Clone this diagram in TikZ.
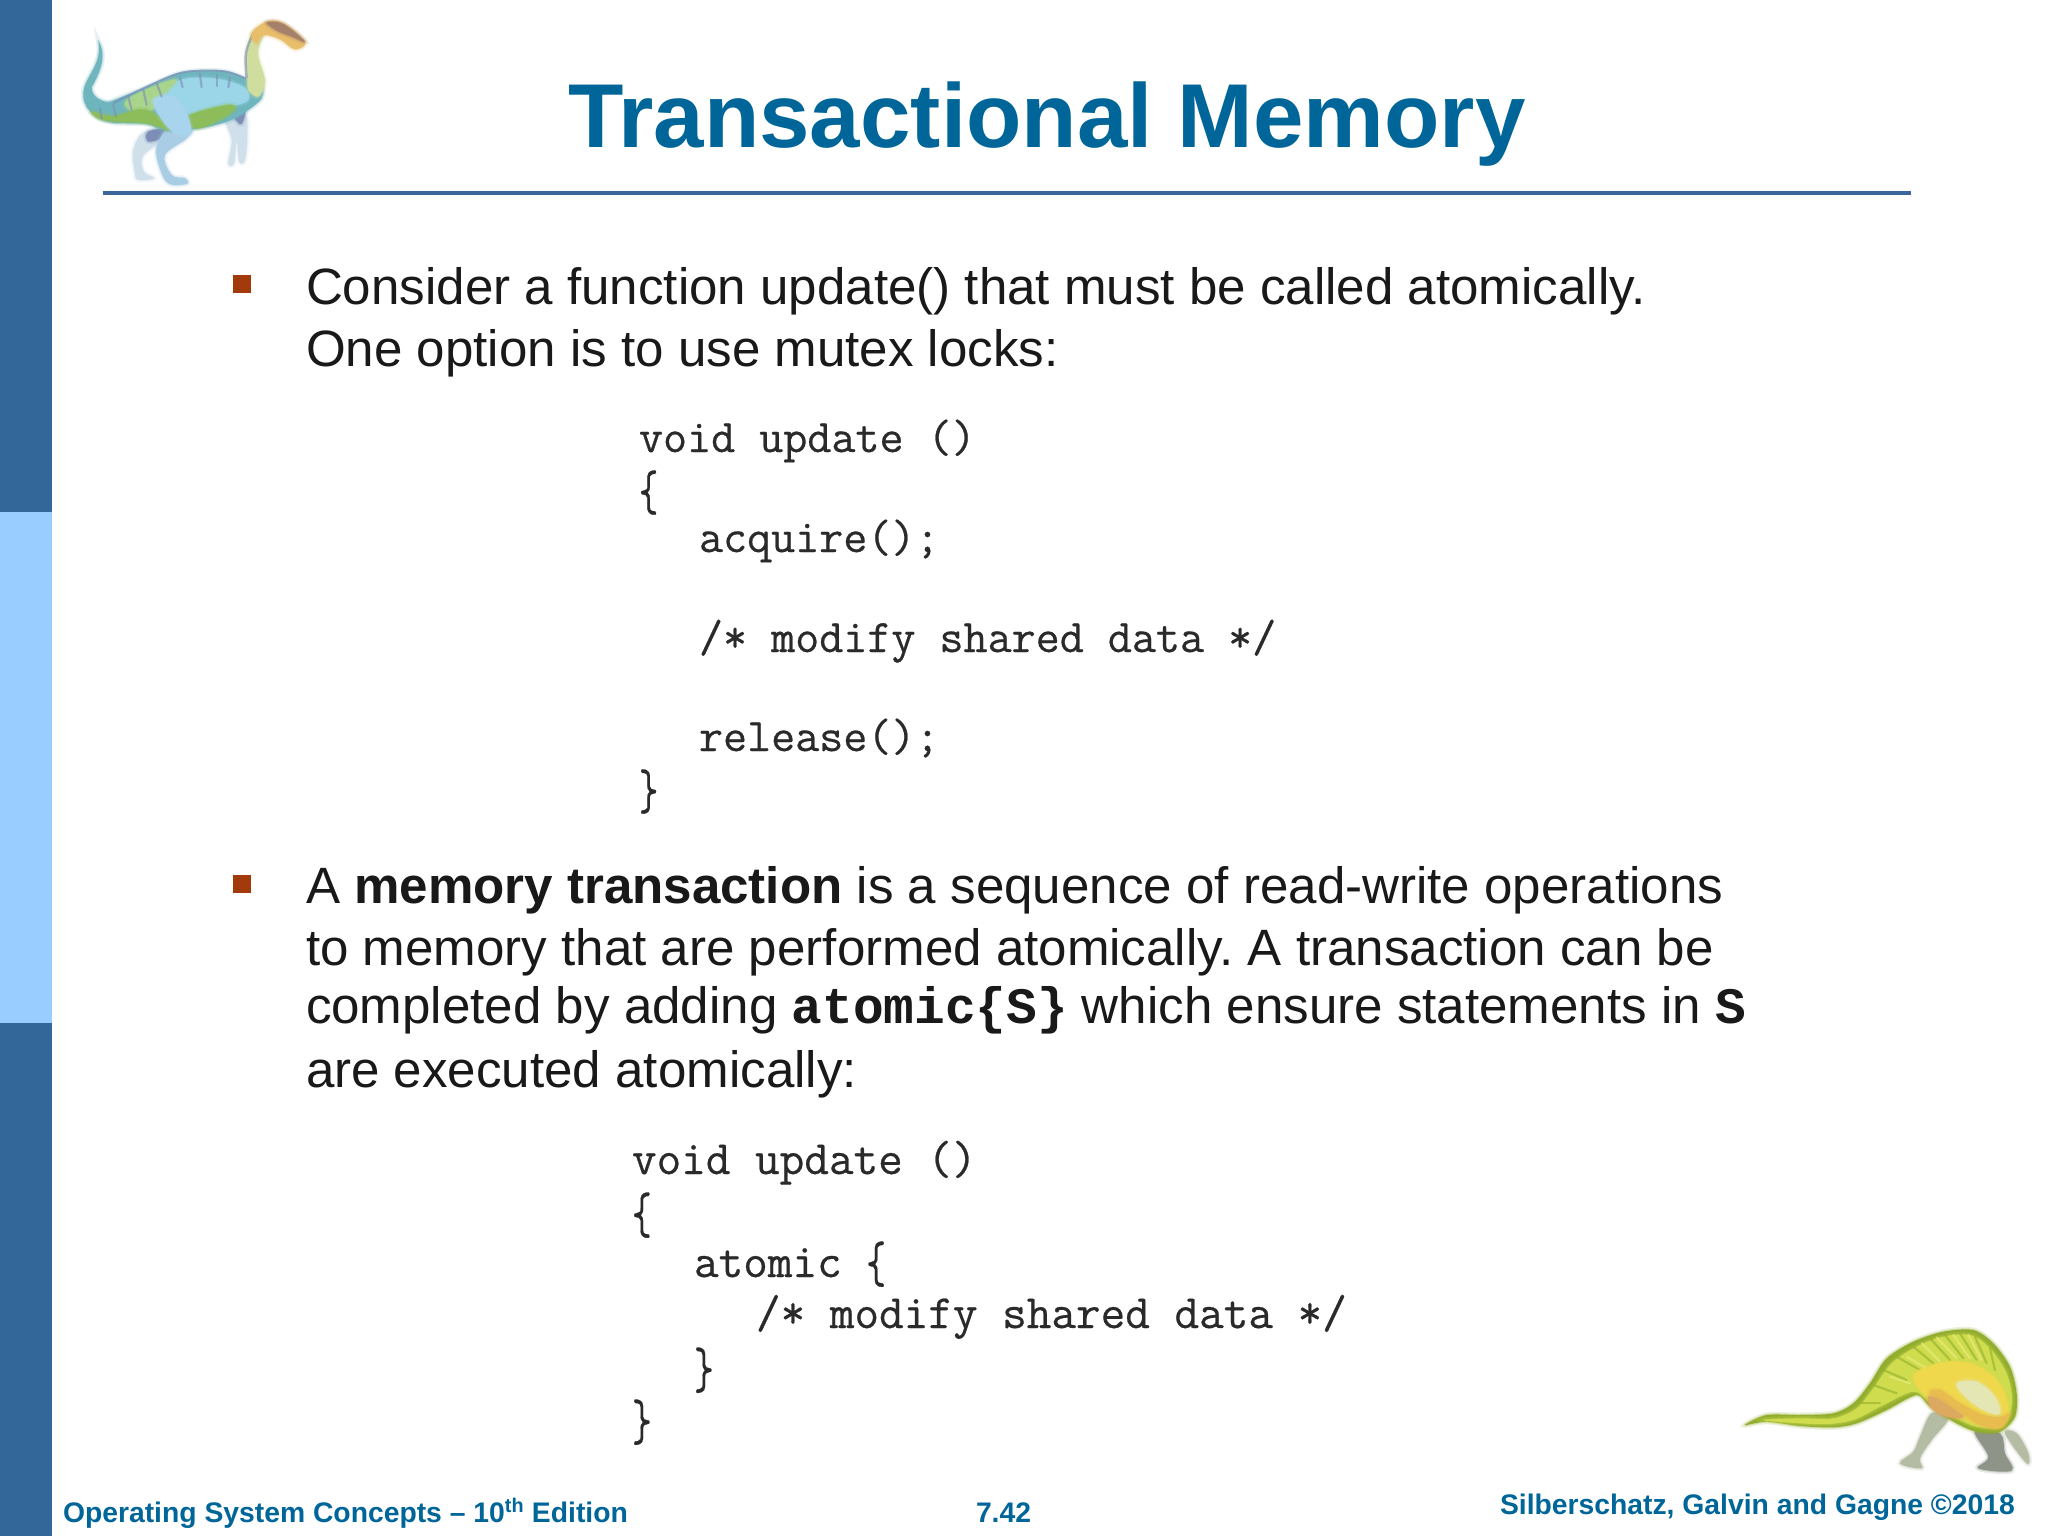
\documentclass[tikz,border=0pt]{standalone}
\usepackage{fontspec}
\setmainfont{Liberation Sans}
\newfontfamily\courf{Liberation Mono}
\newfontfamily\codef{Latin Modern Mono}[FakeBold=0.5]
\definecolor{sidedark}{HTML}{336699}
\definecolor{sidelight}{HTML}{99CCFF}
\definecolor{titleblue}{HTML}{006699}
\definecolor{rulecol}{HTML}{3A669C}
\definecolor{bulletcol}{HTML}{A33A0C}
\definecolor{codecol}{HTML}{2A2A2A}
\definecolor{aTeal}{HTML}{6FB5BE}
\definecolor{aCyan}{HTML}{9AD6E8}
\definecolor{aSky}{HTML}{A9D4EE}
\definecolor{aGreen}{HTML}{8DBD5A}
\definecolor{aLime}{HTML}{A8D48C}
\definecolor{aDark}{HTML}{7C8EB6}
\definecolor{aPale}{HTML}{CFE0EA}
\definecolor{aLeg}{HTML}{A9CDE4}
\definecolor{aNeck}{HTML}{CFDD9E}
\definecolor{aHead}{HTML}{E8BE6A}
\definecolor{aBrown}{HTML}{A5806A}
\definecolor{bOuter}{HTML}{93AE2E}
\definecolor{bBody}{HTML}{CEDC4E}
\definecolor{bYellow}{HTML}{EFD84C}
\definecolor{bOrange}{HTML}{E8BC4E}
\definecolor{bPale}{HTML}{E4E6B4}
\definecolor{bTan}{HTML}{DDA860}
\definecolor{bLeg}{HTML}{B4BCA4}
\definecolor{bLegDark}{HTML}{8E9488}
\definecolor{bStripe}{HTML}{94B02C}
\definecolor{bLight}{HTML}{EDEE80}
\newcommand{\tallopen}{\raisebox{-5pt}{\scalebox{.8}[1.22]{\{}}}
\newcommand{\tallclose}{\raisebox{-5pt}{\scalebox{.8}[1.22]{\}}}}
\tikzset{
  x=1pt,y=-1pt,
  txt/.style={anchor=base west,inner sep=0pt,outer sep=0pt,text=#1},
  txt/.default=black!90,
  bodyline/.style={txt,font=\fontsize{51.1}{60}\selectfont\frenchspacing},
  codeline/.style={txt=codecol,font=\fontsize{46.7}{50}\codef\selectfont},
  codelinetwo/.style={txt=codecol,font=\fontsize{47.8}{50}\codef\selectfont},
  footline/.style={txt=titleblue,font=\fontsize{28.3}{34}\bfseries\selectfont},
  bulletbox/.style={fill=bulletcol,draw=none,minimum size=18pt,inner sep=0pt,anchor=north west},
  blob/.style={fill=#1,draw=#1,draw opacity=.3,line width=2pt,line join=round,
    preaction={draw=#1,line width=5pt,draw opacity=.18}},
  stripe/.style={draw=#1,line width=2.2pt,line cap=round,opacity=.6}
}
\begin{document}
\begin{tikzpicture}
\useasboundingbox (0,0) rectangle (2048,1536);
\fill[white] (0,0) rectangle (2048,1536);
% side bar
\fill[sidedark] (0,0) rectangle (52,512);
\fill[sidelight] (0,512) rectangle (52,1023);
\fill[sidedark] (0,1023) rectangle (52,1536);
% first dinosaur
\begin{scope}[x=0.3333pt,y=-0.3333pt]
  \fill[blob=aPale] plot[smooth cycle,tension=.6] coordinates {(435,395)(400,450)(405,520)(415,540)(462,535)(432,515)(428,470)(480,425)(510,395)};
  \fill[blob=aDark] plot[smooth cycle,tension=.6] coordinates {(445,395)(510,385)(490,412)(445,425)};
  \fill[blob=aPale] plot[smooth cycle,tension=.6] coordinates {(675,350)(695,420)(685,490)(702,490)(710,425)(718,485)(735,480)(742,410)(735,345)};
  \fill[blob=aDark] plot[smooth cycle,tension=.6] coordinates {(705,350)(735,335)(725,372)(712,365)};
  \fill[blob=aLeg] plot[smooth cycle,tension=.6] coordinates {(470,440)(478,500)(505,550)(560,552)(555,535)(515,525)(495,465)(560,415)(575,380)(510,380)};
  % tail and body
  \fill[blob=aTeal] (295,122) .. controls (322,170) and (300,215) .. (275,262)
     .. controls (275,290) and (300,305) .. (340,310) -- (345,365)
     .. controls (300,360) and (255,340) .. (250,290)
     .. controls (245,235) and (310,200) .. (295,122) -- cycle;
  \fill[blob=aTeal] plot[smooth cycle,tension=.5] coordinates {(300,320)(430,265)(530,222)(600,212)(680,215)(745,238)(785,245)(785,295)(730,340)(680,365)(600,385)(500,392)(440,372)(340,368)(290,350)};
  \fill[blob=aCyan] plot[smooth cycle,tension=.6] coordinates {(450,290)(540,240)(640,235)(730,260)(745,300)(690,320)(570,345)(490,340)};
  \fill[blob=aLime] plot[smooth cycle,tension=.6] coordinates {(380,300)(470,255)(530,240)(480,295)(450,335)(390,330)};
  \fill[blob=aGreen] plot[smooth cycle,tension=.6] coordinates {(275,335)(340,348)(420,328)(470,345)(510,390)(440,370)(340,364)(295,355)};
  \fill[blob=aGreen] plot[smooth cycle,tension=.6] coordinates {(565,348)(680,315)(705,328)(650,365)(585,385)};
  \fill[blob=aSky] plot[smooth cycle,tension=.6] coordinates {(460,300)(520,290)(560,340)(572,400)(530,402)(490,365)};
  \foreach \a/\b/\c/\d in {300/325/305/355,340/315/348/350,385/290/395/330,430/270/440/315,470/250/485/290,540/232/548/262,600/222/605/262,650/224/650/258,690/232/685/262}
    \draw[stripe=aDark] (\a,\b) -- (\c,\d);
  \draw[aDark,line width=1.8pt,opacity=.75] plot[smooth,tension=.6] coordinates {(340,310)(430,265)(530,222)(600,212)(680,215)(738,236)};
  % neck and head
  \fill[blob=aNeck] plot[smooth cycle,tension=.6] coordinates {(742,240)(738,160)(760,95)(800,85)(780,130)(775,170)(795,245)(775,290)(745,270)};
  \draw[aDark,line width=2.5pt,opacity=.6] plot[smooth,tension=.6] coordinates {(740,235)(738,160)(760,100)};
  \fill[blob=aHead] plot[smooth cycle,tension=.6] coordinates {(755,100)(800,65)(850,70)(915,125)(885,148)(840,118)(790,105)(770,130)};
  \fill[blob=aBrown] plot[smooth cycle,tension=.6] coordinates {(800,68)(850,72)(915,125)(870,108)(830,92)};
\end{scope}
% second dinosaur
\begin{scope}[shift={(1700,1300)},x=0.3333pt,y=-0.3333pt]
  \fill[blob=bLeg] plot[smooth cycle,tension=.6] coordinates {(695,340)(745,355)(695,420)(660,475)(665,505)(600,490)(640,455)(660,410)};
  \fill[blob=bLegDark] plot[smooth cycle,tension=.6] coordinates {(825,395)(900,400)(915,460)(935,512)(835,505)(865,470)};
  \fill[blob=bLeg] plot[smooth cycle,tension=.6] coordinates {(915,400)(950,400)(985,460)(980,490)};
  \fill[blob=bOuter] plot[smooth cycle,tension=.5] coordinates {(135,375)(200,345)(300,345)(400,340)(460,310)(510,250)(560,175)(640,125)(730,95)(820,90)(880,130)(930,200)(950,280)(945,350)(900,395)(830,395)(770,370)(690,320)(650,285)(560,330)(470,370)(400,382)(300,378)(200,365)};
  \fill[blob=bBody] plot[smooth cycle,tension=.55] coordinates {(190,360)(300,355)(400,355)(470,325)(520,265)(575,190)(650,140)(730,110)(810,105)(865,140)(915,210)(935,280)(930,340)(900,380)(830,380)(770,355)(690,305)(640,275)(550,315)(465,358)(390,372)(300,370)};
  \foreach \a/\b/\c/\d in {480/310/540/310,520/255/590/280,550/210/620/240,590/170/660/210,640/140/700/190,690/115/750/180,735/105/790/175,780/100/830/180,825/110/860/190,870/145/885/210}
    \draw[stripe=bStripe] (\a,\b) -- (\c,\d);
  \foreach \a/\b/\c/\d in {570/230/630/250,620/170/680/205,665/130/720/185,710/112/770/175,760/105/810/175,805/105/845/180}
    \draw[stripe=bLight] (\a,\b) -- (\c,\d);
  \fill[blob=bYellow] plot[smooth cycle,tension=.6] coordinates {(640,230)(720,190)(810,190)(890,240)(925,320)(905,375)(840,375)(770,345)(700,310)};
  \fill[blob=bOrange] plot[smooth cycle,tension=.6] coordinates {(690,280)(760,320)(830,370)(900,385)(930,340)(905,350)(850,345)(780,310)(720,270)};
  \fill[blob=bPale] plot[smooth cycle,tension=.6] coordinates {(770,250)(830,245)(885,290)(900,340)(860,335)(800,295)};
  \fill[blob=bTan] plot[smooth cycle,tension=.6] coordinates {(685,290)(720,300)(790,350)(740,350)(695,325)};
\end{scope}
% header
\node[txt=titleblue,font=\fontsize{90.7}{100}\bfseries\selectfont] (title) at (568,147) {Transactional Memory};
\coordinate (ruleL) at (103,193);
\coordinate (ruleR) at (1911,193);
\draw[rulecol,line width=4pt] (ruleL) -- (ruleR);
% first paragraph
\node[bulletbox] (b1) at (233,275) {};
\node[bodyline] (p1a) at (306,304) {Consider a function update() that must be called atomically.};
\node[bodyline] (p1b) at (306,366) {One option is to use mutex locks:};
% first code
\node[codeline] (c1a) at (639,452) {void update ()};
\node[codeline] (c1b) at (639,505) {\tallopen};
\node[codeline] (c1c) at (699,552) {acquire();};
\node[codeline] (c1d) at (699,652) {/* modify shared data */};
\node[codeline] (c1e) at (699,751) {release();};
\node[codeline] (c1f) at (639,804) {\tallclose};
% second paragraph
\node[bulletbox] (b2) at (233,875) {};
\node[bodyline] (p2a) at (306,903) {A \textbf{memory transaction} is a sequence of read-write operations};
\node[bodyline] (p2b) at (306,965) {to memory that are performed atomically. A transaction can be};
\node[bodyline] (p2c) at (306,1023) {completed by adding {\courf\bfseries atomic\{S\}} which ensure statements in {\courf\bfseries S}};
\node[bodyline] (p2d) at (306,1087) {are executed atomically:};
% second code
\node[codelinetwo] (c2a) at (632,1174) {void update ()};
\node[codelinetwo] (c2b) at (632,1228) {\tallopen};
\node[codelinetwo] (c2c) at (694,1277) {atomic \tallopen};
\node[codelinetwo] (c2d) at (756,1328) {/* modify shared data */};
\node[codelinetwo] (c2e) at (694,1383) {\tallclose};
\node[codelinetwo] (c2f) at (632,1435) {\tallclose};
% footer
\node[footline] (f1) at (63,1522) {Operating System Concepts – 10\textsuperscript{th} Edition};
\node[footline] (f2) at (976,1522) {7.42};
\node[footline] (f3) at (1500,1514) {Silberschatz, Galvin and Gagne ©2018};
\end{tikzpicture}
\end{document}
